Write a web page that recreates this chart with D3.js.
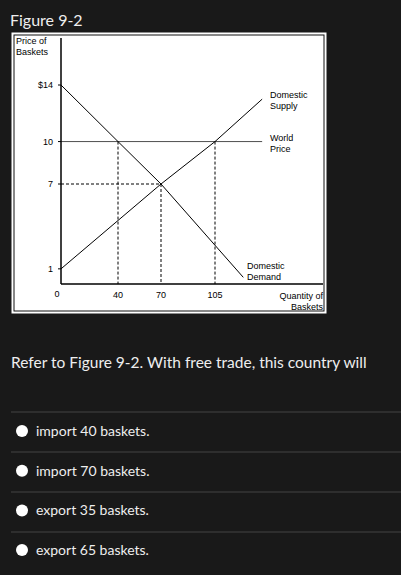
<!DOCTYPE html>
<html><head><meta charset="utf-8">
<script src="https://cdn.jsdelivr.net/npm/d3@7"></script>
<style>body{margin:0;background:#191919;}svg{display:block;}</style>
</head><body>
<svg id="c" width="401" height="575"></svg>
<script>
const xTicks=[40,70,105];
const yTicks=[1,7,10,14];
const supply=[[0,1],[70,7],[105,10],[135,13]];
const demand=[[0,14],[40,10],[70,7],[123,0.4]];
const worldPrice=10, worldEnd=135;
const dashV=[[40,10],[70,7],[105,10]];
const dashH=[[70,7]];
const options=["import 40 baskets.","import 70 baskets.","export 35 baskets.","export 65 baskets."];
const question="Refer to Figure 9-2. With free trade, this country will";

const svg=d3.select("#c");
const font="Liberation Sans, Arial, sans-serif";
const qfont="Lato, sans-serif";
svg.append("text").attr("x",10).attr("y",26).attr("fill","#eee").attr("font-family",qfont).attr("font-size",16).text("Figure 9-2");
svg.append("rect").attr("x",12).attr("y",33).attr("width",314).attr("height",280).attr("fill","#fff").attr("stroke","#fff");
svg.append("rect").attr("x",14).attr("y",35).attr("width",310).attr("height",276).attr("fill","none").attr("stroke","#111").attr("stroke-width",1);
const x=d3.scaleLinear().domain([0,40,70,105,140]).range([61,118,161,215,270]);
const y=d3.scaleLinear().domain([0,14]).range([283,85]);
const g=svg.append("g");
// axes
g.append("line").attr("x1",61).attr("x2",61).attr("y1",38).attr("y2",284).attr("stroke","#000").attr("stroke-width",1.5);
g.append("line").attr("x1",61).attr("x2",323).attr("y1",284).attr("y2",284).attr("stroke","#000").attr("stroke-width",1.5);
const tf={"font-family":font,"font-size":9};
yTicks.forEach(t=>{
  g.append("line").attr("x1",58).attr("x2",61).attr("y1",y(t)).attr("y2",y(t)).attr("stroke","#000");
  g.append("text").attr("x",53).attr("y",y(t)+3).attr("text-anchor","end").attr("font-family",font).attr("font-size",9).text(t===14?"$14":t);
});
xTicks.forEach(t=>{
  g.append("text").attr("x",x(t)).attr("y",298).attr("text-anchor","middle").attr("font-family",font).attr("font-size",9).text(t);
});
g.append("text").attr("x",57).attr("y",297).attr("text-anchor","middle").attr("font-family",font).attr("font-size",9).text("0");
const line=d3.line().x(d=>x(d[0])).y(d=>y(d[1]));
g.append("path").attr("d",line(supply)).attr("fill","none").attr("stroke","#000");
g.append("path").attr("d",line(demand)).attr("fill","none").attr("stroke","#000");
g.append("line").attr("x1",x(0)).attr("x2",x(worldEnd)).attr("y1",y(worldPrice)).attr("y2",y(worldPrice)).attr("stroke","#000").attr("stroke-width",0.7);
dashV.forEach(d=>g.append("line").attr("x1",x(d[0])).attr("x2",x(d[0])).attr("y1",y(d[1])).attr("y2",284).attr("stroke","#000").attr("stroke-dasharray","3,2"));
dashH.forEach(d=>g.append("line").attr("x1",x(0)).attr("x2",x(d[0])).attr("y1",y(d[1])).attr("y2",y(d[1])).attr("stroke","#000").attr("stroke-dasharray","3,2"));
function lab(xx,yy,lines,anchor){const t=g.append("text").attr("font-family",font).attr("font-size",9).attr("text-anchor",anchor||"start");
 lines.forEach((l,i)=>t.append("tspan").attr("x",xx).attr("y",yy+i*11).text(l));}
lab(16,44,["Price of","Baskets"]);
lab(270,98,["Domestic","Supply"]);
lab(270,141,["World","Price"]);
lab(247,269,["Domestic","Demand"]);
lab(323,299,["Quantity of","Baskets"],"end");
svg.append("text").attr("x",11).attr("y",368).attr("fill","#eee").attr("font-family",qfont).attr("font-size",15.5).text(question);
options.forEach((o,i)=>{
  const cy=431+i*39.7;
  svg.append("line").attr("x1",11).attr("x2",401).attr("y1",412+i*40).attr("y2",412+i*40).attr("stroke","#444");
  svg.append("circle").attr("cx",22).attr("cy",cy).attr("r",6).attr("fill","#fff");
  svg.append("text").attr("x",36).attr("y",cy+5).attr("fill","#eee").attr("font-family",qfont).attr("font-size",14).text(o);
});
</script></body></html>
